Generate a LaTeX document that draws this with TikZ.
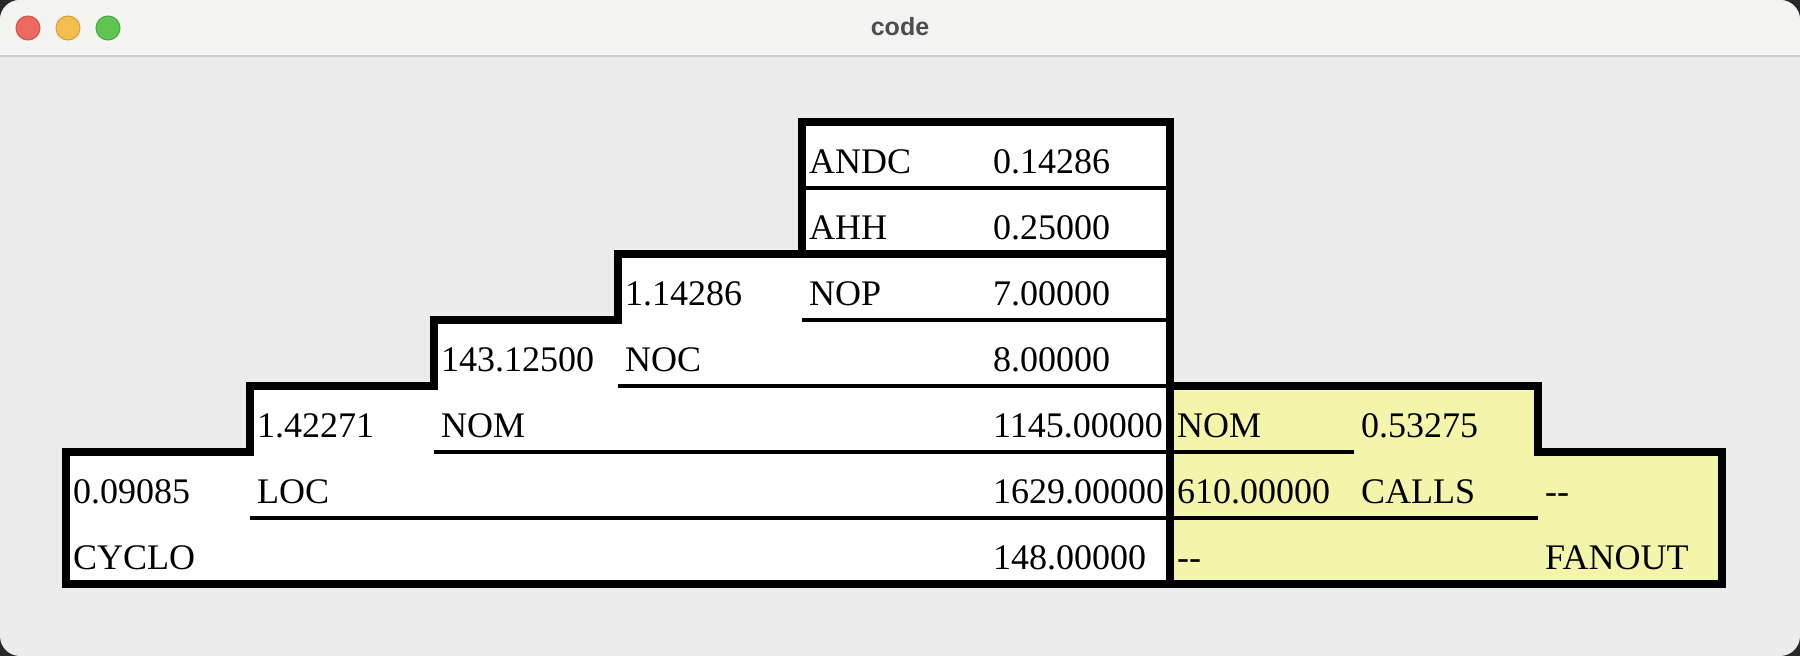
\documentclass[tikz,border=0pt]{standalone}
\usepackage{fontspec}
\setmainfont{Liberation Serif}
\newfontfamily\titlefont{Liberation Sans}
\definecolor{outerdark}{RGB}{40,40,40}
\definecolor{winbg}{RGB}{236,236,236}
\definecolor{titlebg}{RGB}{243,243,241}
\definecolor{sepline}{RGB}{205,205,205}
\definecolor{yell}{RGB}{243,246,170}
\definecolor{dotred}{RGB}{237,106,94}
\definecolor{dotredb}{RGB}{214,86,76}
\definecolor{dotyel}{RGB}{245,191,79}
\definecolor{dotyelb}{RGB}{216,162,58}
\definecolor{dotgrn}{RGB}{97,197,84}
\definecolor{dotgrnb}{RGB}{76,168,64}
\definecolor{titlegrey}{RGB}{77,77,77}
\begin{document}
\begin{tikzpicture}[x=1pt,y=-1pt,
  cell/.style={anchor=base west, inner sep=0pt, font=\fontsize{36}{43}\selectfont},
  thickline/.style={line width=8pt, line join=miter, draw=black},
  thinline/.style={line width=4pt, draw=black},
  dot/.style={circle, minimum size=24pt, inner sep=0pt, line width=1pt}]
\useasboundingbox (0,0) rectangle (1800,656);
% window
\fill[outerdark] (0,0) rectangle (1800,656);
\fill[winbg, rounded corners=20pt] (0,0) rectangle (1800,656);
\fill[titlebg, rounded corners=20pt] (0,0) rectangle (1800,80);
\fill[titlebg] (0,40) rectangle (1800,56);
\fill[winbg] (0,56) rectangle (1800,80);
\draw[sepline, line width=1.5pt] (0,56) -- (1800,56);
\node[dot, fill=dotred, draw=dotredb] (close) at (28,28) {};
\node[dot, fill=dotyel, draw=dotyelb] (minim) at (68,28) {};
\node[dot, fill=dotgrn, draw=dotgrnb] (zoom) at (108,28) {};
\node[font=\titlefont\bfseries\fontsize{25}{30}\selectfont, text=titlegrey, inner sep=0pt] (title) at (900,27) {code};
% fills
\fill[white] (66,584) -- (66,452) -- (250,452) -- (250,386) -- (434,386) -- (434,320) -- (618,320) -- (618,254) -- (802,254) -- (802,122) -- (1170,122) -- (1170,584) -- cycle;
\fill[yell] (1170,386) -- (1538,386) -- (1538,452) -- (1722,452) -- (1722,584) -- (1170,584) -- cycle;
% thin separators
\draw[thinline] (802,188) -- (1170,188);
\draw[thinline] (802,320) -- (1170,320);
\draw[thinline] (618,386) -- (1170,386);
\draw[thinline] (434,452) -- (1354,452);
\draw[thinline] (250,518) -- (1538,518);
% thick outlines
\draw[thickline] (66,584) -- (66,452) -- (250,452) -- (250,386) -- (434,386) -- (434,320) -- (618,320) -- (618,254) -- (802,254) -- (802,122) -- (1170,122) -- (1170,584) -- cycle;
\draw[thickline] (802,254) -- (1170,254);
\draw[thickline] (1170,386) -- (1538,386) -- (1538,452) -- (1722,452) -- (1722,584) -- (1170,584) -- cycle;
% texts
\node[cell] (andc) at (809,173) {ANDC};
\node[cell] (andcv) at (993,173) {0.14286};
\node[cell] (ahh) at (809,239) {AHH};
\node[cell] (ahhv) at (993,239) {0.25000};
\node[cell] (nopr) at (625,305) {1.14286};
\node[cell] (nop) at (809,305) {NOP};
\node[cell] (nopv) at (993,305) {7.00000};
\node[cell] (nocr) at (441,371) {143.12500};
\node[cell] (noc) at (625,371) {NOC};
\node[cell] (nocv) at (993,371) {8.00000};
\node[cell] (nomr) at (257,437) {1.42271};
\node[cell] (nom) at (441,437) {NOM};
\node[cell] (nomv) at (993,437) {1145.00000};
\node[cell] (ynom) at (1177,437) {NOM};
\node[cell] (ynomr) at (1361,437) {0.53275};
\node[cell] (locr) at (73,503) {0.09085};
\node[cell] (loc) at (257,503) {LOC};
\node[cell] (locv) at (993,503) {1629.00000};
\node[cell] (callsv) at (1177,503) {610.00000};
\node[cell] (calls) at (1361,503) {CALLS};
\node[cell] (callsr) at (1545,503) {-{}-};
\node[cell] (cyclo) at (73,569) {CYCLO};
\node[cell] (cyclov) at (993,569) {148.00000};
\node[cell] (fanv) at (1177,569) {-{}-};
\node[cell] (fanout) at (1545,569) {FANOUT};
\end{tikzpicture}
\end{document}
